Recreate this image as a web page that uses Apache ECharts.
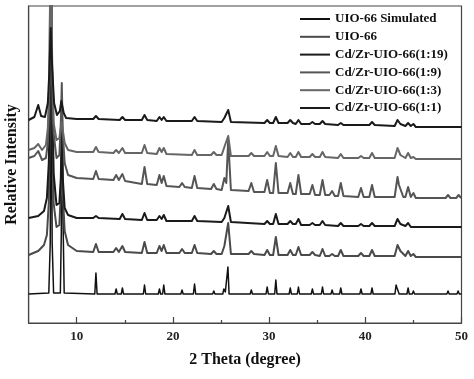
<!DOCTYPE html>
<html>
<head>
<meta charset="utf-8">
<script src="https://cdn.jsdelivr.net/npm/echarts@6/dist/echarts.min.js"></script>
<style>html,body{margin:0;padding:0;background:#fff}#c{width:474px;height:379px}</style>
</head>
<body>
<div id="c"></div>
<script>
const seriesNames = ['UIO-66 Simulated','UIO-66','Cd/Zr-UIO-66(1:19)','Cd/Zr-UIO-66(1:9)','Cd/Zr-UIO-66(1:3)','Cd/Zr-UIO-66(1:1)'];
const xTickLabels = [10,20,30,40,50];
const xMinorTicks = [15,25,35,45];

const simulated = [[5,29],[7.1,30],[7.25,80],[7.35,290],[7.45,80],[7.6,30],[8.3,30],[8.4,90],[8.5,210],[8.6,90],[8.7,30],
[11.88,29],[12.0,50],[12.12,29],[13.98,29],[14.1,34],[14.22,29],[14.63,29],[14.75,35],[14.87,29],
[16.93,29],[17.05,38],[17.17,29],[18.48,29],[18.6,34],[18.72,29],[18.93,29],[19.05,38],[19.17,29],
[20.83,29],[20.95,33],[21.07,29],[22.13,29],[22.25,39],[22.37,29],[24.13,29],[24.25,32],[24.37,29],
[25.18,29],[25.3,34],[25.45,31],[25.6,31],[25.72,56],[25.84,29],[28.03,29],[28.15,33],[28.27,29],
[29.68,29],[29.8,36],[29.92,29],[30.58,29],[30.7,43],[30.82,29],[32.08,29],[32.2,35],[32.32,29],
[32.93,29],[33.05,36],[33.17,29],[34.38,29],[34.5,34],[34.62,29],[35.43,29],[35.55,36],[35.67,29],
[36.43,29],[36.55,33],[36.67,29],[37.33,29],[37.45,35],[37.57,29],[39.43,29],[39.55,34],[39.67,29],
[40.58,29],[40.7,35],[40.82,29],[43.08,29],[43.2,38],[43.3,35],[43.4,37],[43.52,29],
[44.33,29],[44.45,35],[44.57,29],[44.88,29],[45.0,32],[45.12,29],[48.48,29],[48.6,32],[48.72,29],
[49.53,29],[49.65,32],[49.77,29],[50,29]];

const uio66 = [[5,68],[6,72],[6.6,78],[6.9,88],[7.1,120],[7.25,230],[7.35,400],[7.45,230],[7.6,120],[7.9,96],[8.2,98],[8.35,130],[8.45,185],[8.55,130],[8.75,92],[9.1,78],[10,72],
[11.72,71],[12.0,79],[12.28,71],[13.82,71],[14.1,75],[14.38,71],[14.47,71],[14.75,77],[15.03,71],
[16.77,70],[17.05,81],[17.33,70],[18.32,70],[18.6,77],[18.83,72],[19.05,78],[19.33,70],
[20.67,70],[20.95,74],[21.23,70],[21.97,70],[22.25,78],[22.53,70],[23.97,69],[24.25,72],[24.53,69],
[25.07,69],[25.35,77],[25.55,75],[25.75,100],[26.03,69],[27.87,69],[28.15,72],[28.43,69],
[29.52,68],[29.8,73],[30.08,68],[30.42,68],[30.7,86],[30.98,68],[31.92,68],[32.2,73],[32.48,68],
[32.77,68],[33.05,76],[33.33,68],[34.22,68],[34.5,71],[34.78,68],[35.27,67],[35.55,74],[35.83,67],
[36.27,67],[36.55,69],[36.83,67],[37.17,67],[37.45,73],[37.73,67],[39.27,67],[39.55,70],[39.83,67],
[40.42,67],[40.7,73],[40.98,67],[43.05,67],[43.35,78],[43.65,72],[44.17,67],[44.45,72],[44.73,67],
[44.78,67],[45.0,69],[45.25,66],[50,66]];

const cdzr119 = [[5,105],[6,107],[6.6,112],[6.9,125],[7.1,160],[7.25,240],[7.35,290],[7.45,240],[7.6,150],[7.9,118],[8.2,120],[8.35,145],[8.45,200],[8.55,145],[8.75,115],[9.1,108],[10,105],
[11.72,105],[12.0,107],[12.28,105],[14.47,104],[14.75,109],[15.03,104],
[16.77,103],[17.05,110],[17.33,103],[18.32,103],[18.6,107],[18.83,104],[19.05,108],[19.33,102],
[21.97,102],[22.25,107],[22.53,102],[25.07,101],[25.35,105],[25.55,104],[25.75,117],[26.03,101],
[29.52,99],[29.8,102],[30.08,99],[30.42,99],[30.7,109],[30.98,99],[31.92,99],[32.2,102],[32.48,99],
[32.77,99],[33.05,104],[33.33,98],[34.22,98],[34.5,100],[34.78,98],[35.27,98],[35.55,102],[35.83,98],
[37.17,97],[37.45,100],[37.73,97],[39.27,97],[39.55,99],[39.83,97],[40.42,97],[40.7,100],[40.98,97],
[43.05,97],[43.35,104],[43.65,99],[44.17,97],[44.45,100],[44.73,96],[50,96]];

const cdzr19 = [[5,165],[5.6,167],[6.0,172],[6.4,163],[6.8,165],[7.0,180],[7.15,220],[7.3,400],[7.45,250],[7.6,190],[7.9,165],[8.2,168],[8.35,200],[8.45,240],[8.55,190],[8.75,160],[9.1,148],[10,145],
[11.72,144],[12.0,152],[12.28,144],[13.82,143],[14.1,148],[14.38,143],[14.47,142],[14.75,149],[15.03,142],
[16.77,139],[17.05,156],[17.33,139],[18.32,138],[18.6,148],[18.83,140],[19.05,147],[19.33,137],
[20.67,136],[20.95,140],[21.23,136],[21.97,135],[22.25,147],[22.53,135],[23.97,134],[24.25,139],[24.53,134],
[25.07,133],[25.35,145],[25.55,140],[25.75,183],[26.03,133],[27.87,132],[28.15,140],[28.43,131],
[29.52,131],[29.8,143],[30.08,130],[30.42,130],[30.7,160],[30.98,130],[31.92,130],[32.2,140],[32.48,129],
[32.77,129],[33.05,148],[33.33,129],[34.22,129],[34.5,138],[34.78,128],[35.27,128],[35.55,143],[35.83,128],
[36.27,128],[36.55,132],[36.83,127],[37.17,127],[37.45,140],[37.73,127],[39.27,126],[39.55,135],[39.83,126],
[40.42,126],[40.7,138],[40.98,126],[43.05,126],[43.35,146],[43.5,138],[43.65,140],[43.95,126],
[44.17,126],[44.45,136],[44.73,126],[44.78,126],[45.0,130],[45.25,125],[48.35,125],[48.6,128],[48.85,125],
[49.45,125],[49.7,128],[49.95,125],[50,125]];

const cdzr13 = [[5,173],[5.6,175],[6.0,179],[6.4,173],[6.8,178],[7.0,195],[7.15,240],[7.3,400],[7.45,260],[7.6,200],[7.9,183],[8.2,185],[8.35,195],[8.45,201],[8.55,193],[8.75,180],[9.1,173],[10,171],
[11.72,171],[12.0,176],[12.28,171],[13.82,170],[14.1,173],[14.38,170],[14.47,170],[14.75,175],[15.03,170],
[16.77,170],[17.05,178],[17.33,170],[18.32,169],[18.6,175],[18.83,171],[19.05,175],[19.33,169],
[21.97,168],[22.25,173],[22.53,168],[23.97,168],[24.25,171],[24.53,168],
[25.07,168],[25.35,176],[25.55,174],[25.75,187],[26.03,167],[27.87,167],[28.15,170],[28.43,167],
[29.52,167],[29.8,171],[30.08,167],[30.42,167],[30.7,177],[30.98,167],[31.92,166],[32.2,170],[32.48,166],
[32.77,166],[33.05,171],[33.33,166],[34.22,166],[34.5,169],[34.78,166],[35.27,166],[35.55,171],[35.83,166],
[37.17,165],[37.45,169],[37.73,165],[39.27,165],[39.55,167],[39.83,165],
[40.42,165],[40.7,170],[40.98,165],[43.05,165],[43.35,175],[43.65,168],[44.17,165],[44.45,170],[44.73,165],
[44.78,164],[45.0,166],[45.25,164],[50,164]];

const cdzr11 = [[5,203],[5.6,206],[6.0,218],[6.3,207],[6.7,206],[7.0,220],[7.15,250],[7.3,295],[7.45,255],[7.65,220],[7.95,208],[8.25,212],[8.4,222],[8.5,223],[8.65,210],[8.9,205],[10,204],
[11.72,204],[12.0,207],[12.28,204],[14.47,203],[14.75,206],[15.03,203],
[16.77,203],[17.05,208],[17.33,203],[18.32,202],[18.6,206],[18.83,203],[19.05,206],[19.33,202],
[21.97,202],[22.25,206],[22.53,202],[25.07,201],[25.35,205],[25.55,204],[25.75,213],[26.03,201],
[29.52,200],[29.8,203],[30.08,200],[30.42,200],[30.7,206],[30.98,200],[31.92,200],[32.2,203],[32.48,200],
[32.77,199],[33.05,203],[33.33,199],[34.22,199],[34.5,201],[34.78,199],[35.27,199],[35.55,202],[35.83,199],
[37.17,198],[37.45,200],[37.73,198],[40.42,198],[40.7,201],[40.98,198],
[43.05,197],[43.35,203],[43.65,199],[44.17,197],[44.45,200],[44.73,197],[44.78,197],[45.0,199],[45.25,196],[50,196]];

const seriesData = [simulated, uio66, cdzr119, cdzr19, cdzr13, cdzr11];
const seriesColors = ['#111111','#4a4a4a','#1a1a1a','#555555','#666666','#1a1a1a'];
const seriesWidths = [1.5,2,2,2,2,2];

const serif = 'Liberation Serif';
const chart = echarts.init(document.getElementById('c'));
chart.setOption({
  animation: false,
  backgroundColor: '#fff',
  grid: {left: 28.6, right: 12.5, top: 6, bottom: 56, outerBoundsMode: 'none', containLabel: false, show: true, borderColor: '#444', borderWidth: 1.2, backgroundColor: 'transparent'},
  legend: {
    orient: 'vertical', left: 295, top: 7, itemWidth: 30, itemHeight: 2, itemGap: 3.8, icon: 'rect',
    textStyle: {fontFamily: serif, fontWeight: 'bold', fontSize: 13, lineHeight: 14, color: '#111'},
    data: seriesNames
  },
  xAxis: [{
    type: 'value', min: 5, max: 50,
    name: '2 Theta (degree)', nameLocation: 'middle', nameGap: 29,
    nameTextStyle: {fontFamily: serif, fontWeight: 'bold', fontSize: 16, color: '#111'},
    axisLine: {show: true, lineStyle: {color: '#444', width: 1.2}},
    axisTick: {show: true, inside: true, length: 6, customValues: xTickLabels, lineStyle: {color: '#444', width: 1.2}},
    axisLabel: {show: true, margin: 7, customValues: xTickLabels, fontFamily: serif, fontWeight: 'bold', fontSize: 13, color: '#222'},
    splitLine: {show: false}
  }, {
    type: 'value', min: 5, max: 50, position: 'bottom',
    axisLine: {show: false},
    axisTick: {show: true, inside: true, length: 3, customValues: xMinorTicks, lineStyle: {color: '#444', width: 1.2}},
    axisLabel: {show: false},
    splitLine: {show: false}
  }],
  yAxis: {
    type: 'value', min: 0, max: 317,
    name: 'Relative Intensity', nameLocation: 'middle', nameGap: 9,
    nameTextStyle: {fontFamily: serif, fontWeight: 'bold', fontSize: 16, color: '#111'},
    axisLine: {show: true, lineStyle: {color: '#444', width: 1.2}},
    axisTick: {show: false}, axisLabel: {show: false}, splitLine: {show: false}
  },
  series: seriesNames.map((n, i) => ({
    name: n, type: 'line', data: seriesData[i], showSymbol: false, symbol: 'none',
    color: seriesColors[i],
    lineStyle: {color: seriesColors[i], width: seriesWidths[i], join: 'round'},
    itemStyle: {color: seriesColors[i]},
    clip: true, z: 2 + i
  }))
});
</script>
</body>
</html>
